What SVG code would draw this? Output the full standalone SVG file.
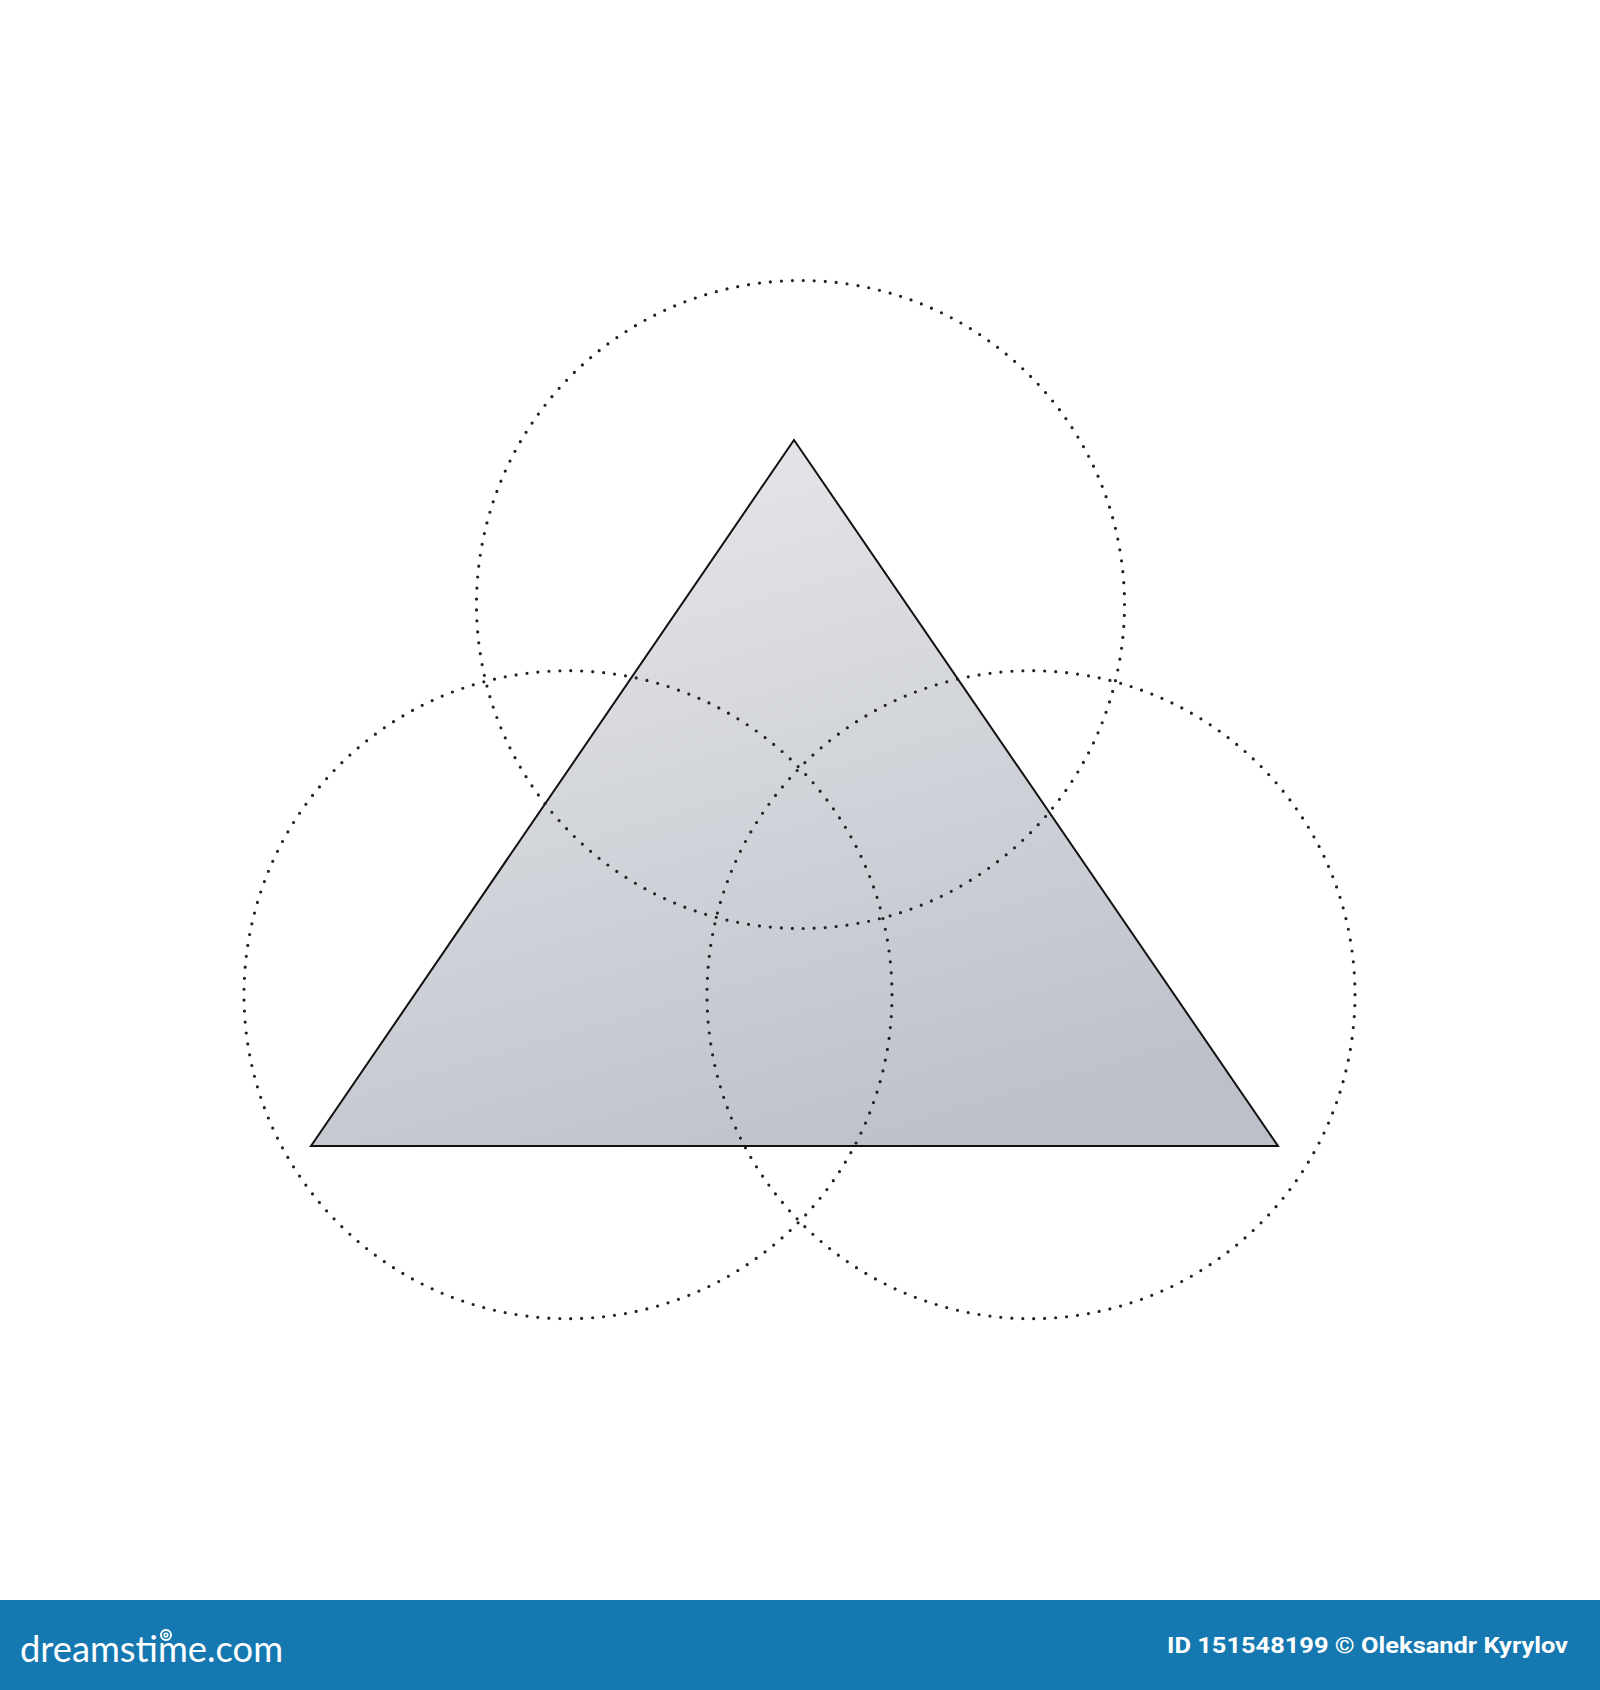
<svg xmlns="http://www.w3.org/2000/svg" width="1600" height="1690" viewBox="0 0 1600 1690">
  <defs>
    <linearGradient id="triFill" x1="0.3" y1="0" x2="0.7" y2="1">
      <stop offset="0" stop-color="#e6e7ea"/>
      <stop offset="1" stop-color="#bcc0c9"/>
    </linearGradient>
    <style>
      .tri { fill: url(#triFill); stroke: #111; stroke-width: 2; stroke-linejoin: miter; }
      .dot { fill: none; stroke: #222; stroke-width: 3.2; stroke-linecap: round; stroke-dasharray: 0 11; }
      .footer { fill: #1578b0; }
      .brand { fill: #ffffff; font-family: "Lato", "Noto Sans", sans-serif; font-size: 36px; }
      .credit { fill: #ffffff; font-family: "Roboto", "Liberation Sans", sans-serif; font-weight: bold; font-size: 22px; }
    </style>
  </defs>
  <rect x="0" y="0" width="1600" height="1690" fill="#ffffff"/>
  <g id="triangle">
    <polygon class="tri" points="794,440 1278,1146 311,1146"/>
  </g>
  <g id="connectors">
    <circle id="circle-top" class="dot" cx="800.5" cy="604.5" r="324"/>
    <circle id="circle-left" class="dot" cx="568" cy="994.7" r="324"/>
    <circle id="circle-right" class="dot" cx="1031" cy="994.7" r="324"/>
  </g>
  <g id="footer">
    <rect class="footer" x="0" y="1600" width="1600" height="90"/>
    <text class="brand" x="20" y="1662" textLength="263" lengthAdjust="spacingAndGlyphs">dreamstime.com</text>
    <circle cx="166" cy="1635" r="5" fill="none" stroke="#ffffff" stroke-width="2"/>
    <circle cx="166" cy="1635" r="1.8" fill="none" stroke="#ffffff" stroke-width="1.5"/>
    <text class="credit" x="1167" y="1653" textLength="401" lengthAdjust="spacingAndGlyphs">ID 151548199 © Oleksandr Kyrylov</text>
  </g>
</svg>
